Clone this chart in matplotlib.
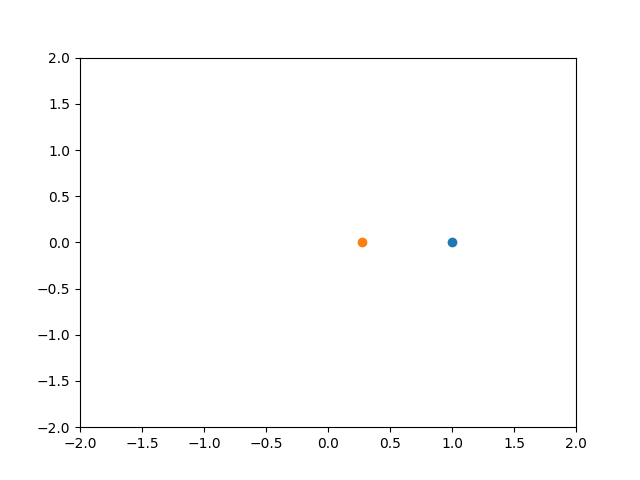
import matplotlib
matplotlib.use("Agg")
import matplotlib.pyplot as plt

series_names = ["A", "B"]
xs = [1.0, 0.274]
ys = [0.0, 0.0]

fig, ax = plt.subplots(figsize=(6.4, 4.8), dpi=100)
for x, y in zip(xs, ys):
    ax.plot([x], [y], 'o')
ax.set_xlim(-2, 2)
ax.set_ylim(-2, 2)
fig.savefig("out.png")
